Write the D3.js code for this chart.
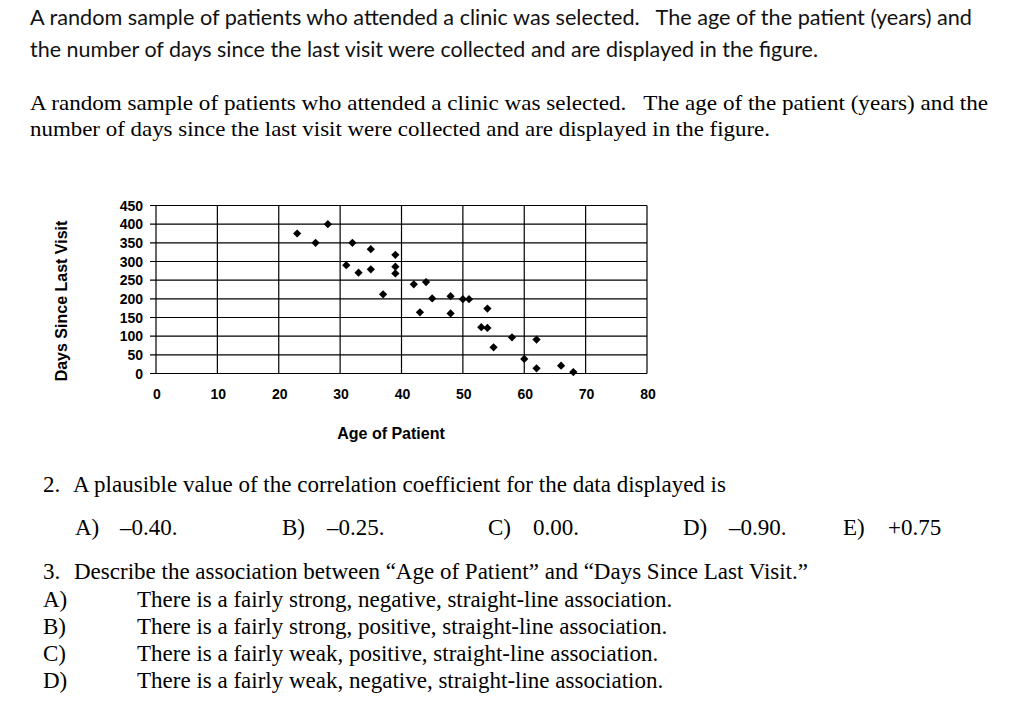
<!DOCTYPE html>
<html lang="en">
    <head>
        <meta charset="utf-8">
        <style>
            body { margin: 0; background: #fff; }
            svg text { white-space: pre; }
            .sans { font-family: Lato, "Open Sans", sans-serif; font-size: 21px; fill: #111; }
            .serif { font-family: "Liberation Serif", "DejaVu Serif", serif; font-size: 21px; fill: #000; }
            .q { font-family: "Liberation Serif", "DejaVu Serif", serif; font-size: 23px; fill: #000; }
            .axis text { font-family: "Liberation Sans", Arial, sans-serif; font-weight: bold; font-size: 14px; fill: #000; }
            .lbl { font-family: "Liberation Sans", Arial, sans-serif; font-weight: bold; font-size: 16px; fill: #000; }
        </style>
    </head>
    <body>
        <script src="https://cdnjs.cloudflare.com/ajax/libs/d3/7.8.5/d3.min.js"></script>
        <script type="text/javascript" charset="utf-8">
            // values
            var ages = [23, 26, 28, 32, 31, 33, 35, 35, 37, 39, 39, 39, 42, 43, 44,
                        45, 48, 48, 50, 51, 54, 53, 54, 55, 58, 60, 62, 62, 66, 68];
            var days = [375, 350, 400, 350, 290, 270, 333, 279, 212, 318, 286, 268, 239, 164, 245,
                        201, 207, 161, 199, 199, 174, 124, 122, 70, 97, 39, 91, 14, 21, 4];
            var xTicks = [0, 10, 20, 30, 40, 50, 60, 70, 80];
            var yTicks = [0, 50, 100, 150, 200, 250, 300, 350, 400, 450];

            var svg = d3.select("body").append("svg")
                .attr("width", 1029)
                .attr("height", 709);

            // text above the chart
            var intro = [
                {cls: "sans", x: 30, y: 25, len: 942, t: "A random sample of patients who attended a clinic was selected.   The age of the patient (years) and"},
                {cls: "sans", x: 30, y: 57, len: 788, t: "the number of days since the last visit were collected and are displayed in the figure."},
                {cls: "serif", x: 30, y: 110, len: 958, t: "A random sample of patients who attended a clinic was selected.   The age of the patient (years) and the"},
                {cls: "serif", x: 30, y: 136, len: 740, t: "number of days since the last visit were collected and are displayed in the figure."}
            ];
            svg.selectAll("text.intro")
                .data(intro).enter()
                .append("text")
                .attr("class", function(d) { return d.cls; })
                .attr("x", function(d) { return d.x; })
                .attr("y", function(d) { return d.y; })
                .attr("textLength", function(d) { return d.len; })
                .attr("lengthAdjust", "spacingAndGlyphs")
                .text(function(d) { return d.t; });

            // chart
            var x = d3.scaleLinear().domain([0, 80]).range([156, 647]);
            var y = d3.scaleLinear().domain([0, 450]).range([373.5, 205.5]);

            var grid = svg.append("g").attr("stroke", "#000").attr("stroke-width", 1.2);
            grid.selectAll("line.h")
                .data(yTicks).enter()
                .append("line")
                .attr("x1", x(0) - 6).attr("x2", x(80))
                .attr("y1", function(d) { return y(d); })
                .attr("y2", function(d) { return y(d); });
            grid.selectAll("line.v")
                .data(xTicks).enter()
                .append("line")
                .attr("x1", function(d) { return x(d); })
                .attr("x2", function(d) { return x(d); })
                .attr("y1", y(450)).attr("y2", y(0));

            var yAxis = svg.append("g").attr("class", "axis");
            yAxis.selectAll("text")
                .data(yTicks).enter()
                .append("text")
                .attr("x", 143)
                .attr("y", function(d) { return y(d) + 5; })
                .attr("text-anchor", "end")
                .text(function(d) { return d; });

            var xAxis = svg.append("g").attr("class", "axis");
            xAxis.selectAll("text")
                .data(xTicks).enter()
                .append("text")
                .attr("x", function(d) { return x(d) + 1; })
                .attr("y", 399)
                .attr("text-anchor", "middle")
                .text(function(d) { return d; });

            svg.append("text").attr("class", "lbl")
                .attr("x", 391).attr("y", 439)
                .attr("text-anchor", "middle")
                .text("Age of Patient");

            svg.append("text").attr("class", "lbl")
                .attr("transform", "translate(67,301) rotate(-90)")
                .attr("text-anchor", "middle")
                .text("Days Since Last Visit");

            var diamond = d3.symbol().type(d3.symbolSquare).size(34);
            svg.append("g").selectAll("path")
                .data(ages).enter()
                .append("path")
                .attr("d", diamond)
                .attr("fill", "#000")
                .attr("transform", function(d, i) {
                    return "translate(" + x(d) + "," + y(days[i]) + ") rotate(45)";
                });

            // questions
            var q = [
                {x: 43, y: 492, t: "2."},
                {x: 73, y: 492, t: "A plausible value of the correlation coefficient for the data displayed is"},
                {x: 75, y: 535, t: "A)"}, {x: 120, y: 535, t: "\u20130.40."},
                {x: 282, y: 535, t: "B)"}, {x: 327, y: 535, t: "\u20130.25."},
                {x: 488, y: 535, t: "C)"}, {x: 533, y: 535, t: "0.00."},
                {x: 683, y: 535, t: "D)"}, {x: 729, y: 535, t: "\u20130.90."},
                {x: 843, y: 535, t: "E)"}, {x: 888, y: 535, t: "+0.75"},
                {x: 43, y: 579, t: "3."},
                {x: 74, y: 579, t: "Describe the association between \u201cAge of Patient\u201d and \u201cDays Since Last Visit.\u201d"},
                {x: 43, y: 607, t: "A)"}, {x: 137, y: 607, t: "There is a fairly strong, negative, straight-line association."},
                {x: 43, y: 634, t: "B)"}, {x: 137, y: 634, t: "There is a fairly strong, positive, straight-line association."},
                {x: 43, y: 661, t: "C)"}, {x: 137, y: 661, t: "There is a fairly weak, positive, straight-line association."},
                {x: 43, y: 688, t: "D)"}, {x: 137, y: 688, t: "There is a fairly weak, negative, straight-line association."}
            ];
            svg.selectAll("text.q")
                .data(q).enter()
                .append("text")
                .attr("class", "q")
                .attr("x", function(d) { return d.x; })
                .attr("y", function(d) { return d.y; })
                .text(function(d) { return d.t; });
        </script>
    </body>
</html>
